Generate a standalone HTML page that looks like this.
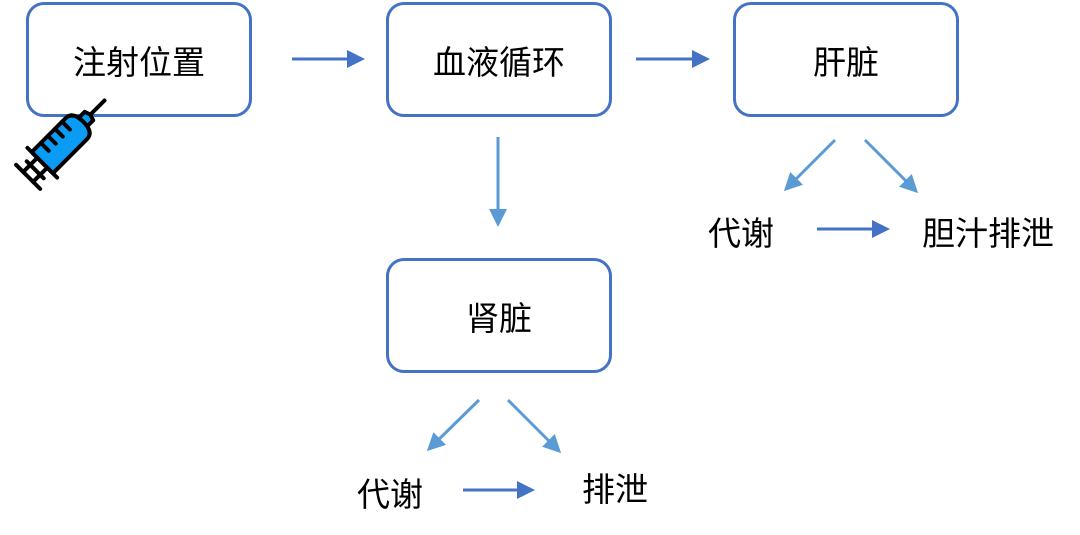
<!DOCTYPE html><html><head><meta charset="utf-8"><style>
body{margin:0;width:1080px;height:535px;background:#fff;overflow:hidden;font-family:"Liberation Sans","Noto Sans CJK SC",sans-serif}
.b{position:absolute;width:220px;height:109px;border:3px solid #4472c4;border-radius:18px;display:flex;align-items:center;justify-content:center;font-size:33px;color:#000;box-sizing:content-box}
.t{position:absolute;font-size:33px;color:#000;transform:translate(-50%,-50%);white-space:nowrap}
</style></head><body>
<div class="b" style="left:26px;top:2px">注射位置</div>
<div class="b" style="left:386px;top:2px">血液循环</div>
<div class="b" style="left:733px;top:2px">肝脏</div>
<div class="b" style="left:386px;top:258px">肾脏</div>
<div class="t" style="left:741px;top:231px">代谢</div>
<div class="t" style="left:988px;top:231px">胆汁排泄</div>
<div class="t" style="left:390px;top:492px">代谢</div>
<div class="t" style="left:615px;top:487px">排泄</div>
<svg width="1080" height="535" style="position:absolute;left:0;top:0">
<defs>
<marker id="d" markerWidth="6" markerHeight="6" refX="5" refY="3" orient="auto" markerUnits="strokeWidth"><path d="M0,0L6,3L0,6z" fill="#4472c4"/></marker>
<marker id="l" markerWidth="6" markerHeight="6" refX="5" refY="3" orient="auto" markerUnits="strokeWidth"><path d="M0,0L6,3L0,6z" fill="#5b9bd5"/></marker>
</defs>
<g stroke="#4472c4" stroke-width="3" marker-end="url(#d)">
<line x1="292" y1="59" x2="362" y2="59"/>
<line x1="636" y1="59" x2="707" y2="59"/>
<line x1="817" y1="229" x2="887" y2="229"/>
<line x1="463" y1="490" x2="532" y2="490"/>
</g>
<g stroke="#5b9bd5" stroke-width="3" marker-end="url(#l)">
<line x1="498" y1="137" x2="498" y2="224"/>
<line x1="835" y1="140" x2="786" y2="189"/>
<line x1="865" y1="140" x2="916" y2="191"/>
<line x1="479" y1="400" x2="429" y2="449"/>
<line x1="508" y1="400" x2="559" y2="451"/>
</g>
<g transform="translate(55,150) rotate(-45)" stroke="#000" stroke-width="4" stroke-linecap="round" stroke-linejoin="round">
<line x1="50" y1="0" x2="70" y2="0"/>
<path d="M38,-6 L48,-6 L50,0 L48,6 L38,6z" fill="#0a9bf5"/>
<path d="M-18,-15 L30,-15 Q40,-15 40,0 Q40,15 30,15 L-18,15z" fill="#0a9bf5"/>
<line x1="-5" y1="-15" x2="-5" y2="-4"/><line x1="5" y1="-15" x2="5" y2="-4"/><line x1="15" y1="-15" x2="15" y2="-4"/><line x1="25" y1="-15" x2="25" y2="-4"/>
<line x1="-18" y1="-21" x2="-18" y2="21"/>
<line x1="-18" y1="-7" x2="-38" y2="-7"/><line x1="-18" y1="7" x2="-38" y2="7"/>
<line x1="-28" y1="-12" x2="-28" y2="12"/>
<line x1="-38" y1="-17" x2="-38" y2="17"/>
</g>
</svg>
</body></html>
